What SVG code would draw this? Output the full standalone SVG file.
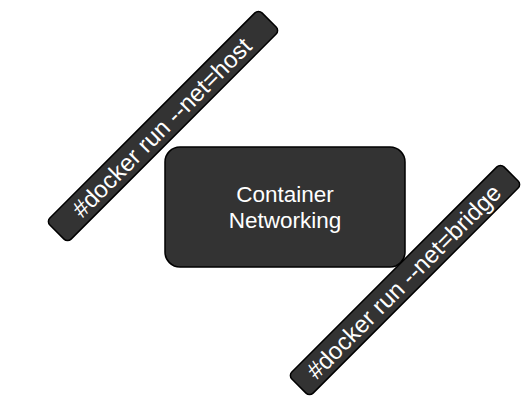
<svg xmlns="http://www.w3.org/2000/svg" width="526" height="402" viewBox="0 0 526 402">
<style>
.box{fill:#333333;stroke:#000000;stroke-width:1.5}
.lbl{fill:#ffffff;font-family:"Liberation Sans",Arial,Helvetica,sans-serif;text-anchor:middle}
.c{font-size:22.5px}
.b{font-size:24px}
</style>
<rect width="526" height="402" fill="#ffffff"/>
<g id="connectors"></g>
<g id="container-networking">
<rect class="box" x="165" y="147" width="240" height="120" rx="15" ry="15"/>
<text class="lbl c" x="285" y="202">Container</text>
<text class="lbl c" x="285" y="228">Networking</text>
</g>
<g id="net-host" transform="translate(163,126) rotate(-45)">
<rect class="box" x="-150" y="-15" width="300" height="30" rx="5" ry="5"/>
<text class="lbl b" x="-2" y="8.5">#docker run --net=host</text>
</g>
<g id="net-bridge" transform="translate(405,280) rotate(-45)">
<rect class="box" x="-150" y="-15" width="300" height="30" rx="5" ry="5"/>
<text class="lbl b" x="-2" y="8.5">#docker run --net=bridge</text>
</g>
</svg>
